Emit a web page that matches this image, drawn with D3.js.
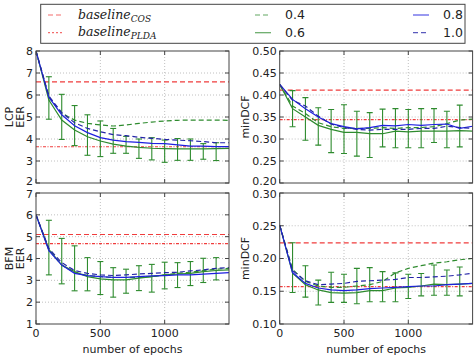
<!DOCTYPE html>
<html><head><meta charset="utf-8">
<script src="https://cdn.jsdelivr.net/npm/d3@7"></script>
<style>body{margin:0;background:#fff}svg{display:block}text{font-family:"DejaVu Sans",sans-serif;fill:#222}</style>
</head><body><svg id="c" width="474" height="355"></svg>
<script>
const epochs = [0,100,200,300,400,500,600,700,800,900,1000,1100,1200,1300,1400,1500];
const errEpochs = [100,200,300,400,500,600,700,800,900,1000,1100,1200,1300,1400];

// Panel A: LCP EER
const lcpEER_04 = [8,5.9,5.17,4.86,4.71,4.64,4.59,4.64,4.71,4.77,4.82,4.85,4.86,4.86,4.86,4.85];
const lcpEER_06 = [8,5.77,4.86,4.41,4.1,3.91,3.77,3.68,3.62,3.58,3.56,3.55,3.55,3.55,3.56,3.57];
const lcpEER_08 = [8,5.9,5.1,4.6,4.29,4.06,3.95,3.88,3.85,3.8,3.79,3.73,3.68,3.68,3.65,3.65];
const lcpEER_10 = [8,5.95,5.2,4.74,4.48,4.33,4.2,4.15,4.08,4.03,3.98,3.95,3.92,3.88,3.83,3.83];
const lcpEER_errHi = [6.83,6.03,5.52,5.1,4.82,4.48,4.12,4.0,4.06,3.95,4.02,4.0,3.79,3.83];
const lcpEER_errLo = [4.9,3.98,3.7,3.26,3.2,3.35,3.35,3.12,3.05,2.94,3.03,3.03,3.08,3.02];
const lcpEER_base = [6.6,3.65];

// Panel B: LCP minDCF
const lcpDCF_04 = [0.424,0.375,0.358,0.337,0.328,0.324,0.324,0.324,0.326,0.324,0.326,0.326,0.328,0.335,0.343,0.345];
const lcpDCF_06 = [0.424,0.369,0.35,0.331,0.322,0.315,0.315,0.312,0.312,0.318,0.316,0.318,0.318,0.318,0.319,0.318];
const lcpDCF_08 = [0.424,0.39,0.369,0.35,0.335,0.328,0.323,0.326,0.331,0.33,0.333,0.331,0.333,0.334,0.324,0.329];
const lcpDCF_10 = [0.424,0.388,0.375,0.352,0.334,0.326,0.322,0.32,0.322,0.322,0.322,0.324,0.324,0.329,0.326,0.324];
const lcpDCF_errHi = [0.41,0.394,0.371,0.367,0.378,0.363,0.36,0.368,0.369,0.367,0.369,0.369,0.363,0.377];
const lcpDCF_errLo = [0.328,0.297,0.286,0.269,0.267,0.261,0.258,0.282,0.28,0.28,0.28,0.292,0.28,0.282];
const lcpDCF_base = [0.411,0.344];

// Panel C: BFM EER
const bfmEER_04 = [6.0,4.39,3.7,3.35,3.22,3.17,3.13,3.13,3.14,3.17,3.25,3.32,3.37,3.45,3.51,3.55];
const bfmEER_06 = [6.0,4.42,3.7,3.4,3.17,3.07,3.02,3.02,3.1,3.17,3.25,3.29,3.32,3.4,3.45,3.48];
const bfmEER_08 = [6.0,4.36,3.7,3.32,3.22,3.17,3.14,3.14,3.17,3.2,3.22,3.25,3.25,3.28,3.32,3.35];
const bfmEER_10 = [6.0,4.46,3.81,3.45,3.32,3.25,3.22,3.25,3.29,3.32,3.35,3.37,3.43,3.48,3.55,3.58];
const bfmEER_errHi = [5.75,4.92,4.58,4.04,3.86,3.58,3.51,3.67,3.73,3.83,3.81,3.86,4.01,4.04];
const bfmEER_errLo = [3.25,2.84,2.52,2.52,2.35,2.23,2.41,2.53,2.46,2.61,2.67,2.76,2.9,3.02];
const bfmEER_base = [5.1,4.68];

// Panel D: BFM minDCF
const bfmDCF_04 = [0.251,0.1835,0.165,0.158,0.156,0.156,0.158,0.16,0.165,0.178,0.185,0.189,0.193,0.195,0.198,0.2];
const bfmDCF_06 = [0.251,0.1775,0.16,0.152,0.148,0.147,0.148,0.151,0.151,0.155,0.156,0.158,0.161,0.16,0.161,0.162];
const bfmDCF_08 = [0.251,0.1785,0.162,0.155,0.152,0.151,0.152,0.154,0.155,0.156,0.157,0.158,0.158,0.16,0.161,0.162];
const bfmDCF_10 = [0.251,0.1815,0.166,0.16,0.161,0.162,0.165,0.166,0.167,0.168,0.171,0.171,0.172,0.173,0.175,0.1775];
const bfmDCF_errHi = [0.224,0.189,0.167,0.179,0.176,0.185,0.186,0.18,0.178,0.176,0.177,0.19,0.1825,0.187];
const bfmDCF_errLo = [0.148,0.141,0.129,0.133,0.133,0.131,0.134,0.134,0.134,0.139,0.143,0.144,0.144,0.143];
const bfmDCF_base = [0.224,0.157];

const xTicks = [0,500,1000];
const eerTicksTop = [2,3,4,5,6,7,8];
const eerTicksBot = [1,2,3,4,5,6,7];
const dcfTicksTop = [0.20,0.25,0.30,0.35,0.40,0.45,0.50];
const dcfTicksBot = [0.10,0.15,0.20,0.25,0.30];

const seriesNames = ["0.4","0.6","0.8","1.0"];
const C = {red:"#f03c3c", green:"#2e8b2e", blue:"#1f1fe0", navy:"#2424a8"};
const seriesStyle = [
  {color:C.green, dash:"5,3"},
  {color:C.green, dash:null},
  {color:C.blue, dash:null},
  {color:C.navy, dash:"5,3"}
];

const svg = d3.select("#c");
const panels = [
  {x0:36, x1:229, y0:51, y1:183, dom:[2,8], ticks:eerTicksTop, fmt:d3.format("d"), series:[lcpEER_04,lcpEER_06,lcpEER_08,lcpEER_10], hi:lcpEER_errHi, lo:lcpEER_errLo, base:lcpEER_base, label:["LCP","EER"], xlab:false},
  {x0:279.7, x1:472.6, y0:51, y1:183, dom:[0.2,0.5], ticks:dcfTicksTop, fmt:d3.format(".2f"), series:[lcpDCF_04,lcpDCF_06,lcpDCF_08,lcpDCF_10], hi:lcpDCF_errHi, lo:lcpDCF_errLo, base:lcpDCF_base, label:["minDCF"], xlab:false},
  {x0:36, x1:229, y0:193, y1:324, dom:[1,7], ticks:eerTicksBot, fmt:d3.format("d"), series:[bfmEER_04,bfmEER_06,bfmEER_08,bfmEER_10], hi:bfmEER_errHi, lo:bfmEER_errLo, base:bfmEER_base, label:["BFM","EER"], xlab:true},
  {x0:279.7, x1:472.6, y0:193, y1:324, dom:[0.1,0.3], ticks:dcfTicksBot, fmt:d3.format(".2f"), series:[bfmDCF_04,bfmDCF_06,bfmDCF_08,bfmDCF_10], hi:bfmDCF_errHi, lo:bfmDCF_errLo, base:bfmDCF_base, label:["minDCF"], xlab:true}
];

panels.forEach((p,i)=>{
  const x = d3.scaleLinear().domain([0,1500]).range([p.x0,p.x1]);
  const y = d3.scaleLinear().domain(p.dom).range([p.y1,p.y0]);
  const g = svg.append("g");
  const cid = "clip"+i;
  svg.append("clipPath").attr("id",cid).append("rect").attr("x",p.x0).attr("y",p.y0).attr("width",p.x1-p.x0).attr("height",p.y1-p.y0);
  g.selectAll(".gx").data(xTicks.filter(t=>t>0)).join("line")
    .attr("x1",d=>x(d)).attr("x2",d=>x(d)).attr("y1",p.y0).attr("y2",p.y1)
    .attr("stroke","#b0b0b0").attr("stroke-width",0.8).attr("stroke-dasharray","1,2");
  g.selectAll(".gy").data(p.ticks.slice(1,-1)).join("line")
    .attr("x1",p.x0).attr("x2",p.x1).attr("y1",d=>y(d)).attr("y2",d=>y(d))
    .attr("stroke","#b0b0b0").attr("stroke-width",0.8).attr("stroke-dasharray","1,2");
  const pg = g.append("g").attr("clip-path",`url(#${cid})`);
  pg.append("line").attr("x1",p.x0).attr("x2",p.x1).attr("y1",y(p.base[0])).attr("y2",y(p.base[0]))
    .attr("stroke",C.red).attr("stroke-width",1.2).attr("stroke-dasharray","5,3");
  pg.append("line").attr("x1",p.x0).attr("x2",p.x1).attr("y1",y(p.base[1])).attr("y2",y(p.base[1]))
    .attr("stroke",C.red).attr("stroke-width",1.1).attr("stroke-dasharray","3,1.5,1,1.5");
  errEpochs.forEach((e,k)=>{
    const xx = x(e);
    pg.append("line").attr("x1",xx).attr("x2",xx).attr("y1",y(p.hi[k])).attr("y2",y(p.lo[k])).attr("stroke",C.green).attr("stroke-width",1.1);
    [p.hi[k],p.lo[k]].forEach(v=>pg.append("line").attr("x1",xx-3).attr("x2",xx+3).attr("y1",y(v)).attr("y2",y(v)).attr("stroke",C.green).attr("stroke-width",1.1));
  });
  const line = d3.line().x((d,k)=>x(epochs[k])).y(d=>y(d));
  p.series.forEach((s,k)=>{
    pg.append("path").attr("d",line(s)).attr("fill","none")
      .attr("stroke",seriesStyle[k].color).attr("stroke-width",1.2)
      .attr("stroke-dasharray",seriesStyle[k].dash);
  });
  g.append("rect").attr("x",p.x0).attr("y",p.y0).attr("width",p.x1-p.x0).attr("height",p.y1-p.y0)
    .attr("fill","none").attr("stroke","#444").attr("stroke-width",1);
  const isTop = p.y0 < 100;
  p.ticks.forEach((t,k)=>{
    g.append("line").attr("x1",p.x0).attr("x2",p.x0+4).attr("y1",y(t)).attr("y2",y(t)).attr("stroke","#444");
    g.append("line").attr("x1",p.x1).attr("x2",p.x1-4).attr("y1",y(t)).attr("y2",y(t)).attr("stroke","#444");
    let nudge = 0;
    if(isTop && k===0) nudge = -1.5;
    if(!isTop && k===p.ticks.length-1) nudge = 1.5;
    g.append("text").attr("x",p.x0-3).attr("y",y(t)+nudge).attr("dy","0.35em").attr("text-anchor","end")
      .attr("font-size",11).text(p.fmt(t));
  });
  xTicks.forEach(t=>{
    g.append("line").attr("x1",x(t)).attr("x2",x(t)).attr("y1",p.y1).attr("y2",p.y1-4).attr("stroke","#444");
    g.append("line").attr("x1",x(t)).attr("x2",x(t)).attr("y1",p.y0).attr("y2",p.y0+4).attr("stroke","#444");
    if(p.xlab) g.append("text").attr("x",x(t)).attr("y",p.y1+13).attr("text-anchor","middle").attr("font-size",11).text(t);
  });
  if(p.xlab) g.append("text").attr("x",(p.x0+p.x1)/2).attr("y",p.y1+29).attr("text-anchor","middle").attr("font-size",11).text("number of epochs");
  const cy=(p.y0+p.y1)/2;
  const lx = p.label.length===2 ? 9 : p.x0-35;
  const t = g.append("text").attr("transform",`translate(${lx},${cy}) rotate(-90)`).attr("text-anchor","middle").attr("font-size",11);
  p.label.forEach((l,k)=>t.append("tspan").attr("x",0).attr("dy",k===0?"0.35em":"1.05em").text(l));
});

// legend
const lg = svg.append("g");
lg.append("rect").attr("x",40.7).attr("y",4.3).attr("width",424.3).attr("height",39).attr("fill","#fff").attr("stroke","#444").attr("stroke-width",1);
const legItems = [
  {x:48, y:15, color:C.red, dash:"5,3", name:"COS", base:true},
  {x:48, y:32.7, color:C.red, dash:"2,2", name:"PLDA", base:true},
  {x:255, y:15, color:seriesStyle[0].color, dash:seriesStyle[0].dash, name:seriesNames[0]},
  {x:255, y:32.7, color:seriesStyle[1].color, dash:seriesStyle[1].dash, name:seriesNames[1]},
  {x:413, y:15, color:seriesStyle[2].color, dash:seriesStyle[2].dash, name:seriesNames[2]},
  {x:413, y:32.7, color:seriesStyle[3].color, dash:seriesStyle[3].dash, name:seriesNames[3]}
];
legItems.forEach(it=>{
  lg.append("line").attr("x1",it.x).attr("x2",it.x+16).attr("y1",it.y).attr("y2",it.y)
    .attr("stroke",it.color).attr("stroke-width",1.2).attr("stroke-dasharray",it.dash).attr("opacity",0.75);
  if(it.base){
    const tx = lg.append("text").attr("x",it.x+30).attr("y",it.y).attr("dy","0.3em")
      .style("font-family","'DejaVu Serif','Liberation Serif',serif").style("font-style","italic").attr("font-size",12.5);
    tx.append("tspan").text("baseline");
    tx.append("tspan").attr("font-size",9).attr("dy","3").text(it.name);
  } else {
    lg.append("text").attr("x",it.x+30).attr("y",it.y).attr("dy","0.35em").attr("font-size",12.5).text(it.name);
  }
});
</script></body></html>
